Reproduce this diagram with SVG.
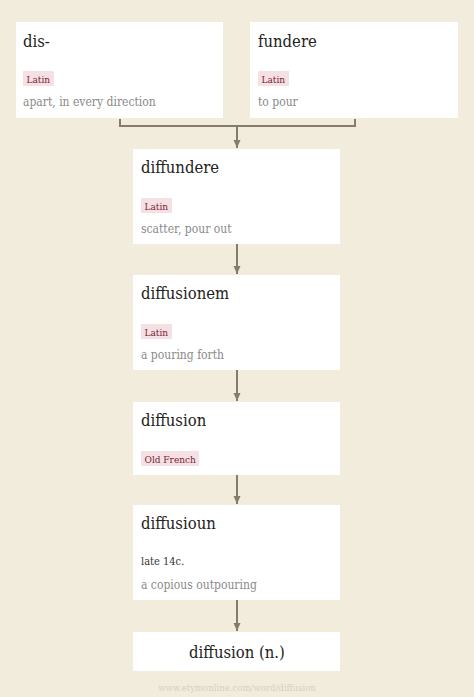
<svg xmlns="http://www.w3.org/2000/svg" width="474" height="697" viewBox="0 0 474 697">
<style>
.box{fill:#ffffff}
text{font-family:'DejaVu Serif Condensed','DejaVu Serif',serif;font-stretch:condensed}
.title{font-size:16.5px;fill:#222}
.tagbg{fill:#f5e0e4}
.tag{font-size:10px;fill:#7a1d38}
.def{font-size:12px;fill:#8a8a8a}
.date{font-size:11px;fill:#333}
.wm{font-size:9.5px;fill:#d6d0c0}
.conn{stroke:#857c6c;stroke-width:2;fill:none}
</style>
<defs>
<marker id="ah" markerWidth="8" markerHeight="9" refX="8" refY="3.5" orient="auto" markerUnits="userSpaceOnUse">
<path d="M0,0 L8,3.5 L0,7 Z" fill="#857c6c"/>
</marker>
</defs>
<rect width="474" height="697" fill="#f2ecdc"/>
<g id="connectors">
<path class="conn" d="M120,119 V126 H355 V119"/>
<path class="conn" d="M237,126 V148" marker-end="url(#ah)"/>
<path class="conn" d="M237,244 V274" marker-end="url(#ah)"/>
<path class="conn" d="M237,370 V401" marker-end="url(#ah)"/>
<path class="conn" d="M237,475 V504" marker-end="url(#ah)"/>
<path class="conn" d="M237,600 V631" marker-end="url(#ah)"/>
</g>
<g id="node-dis">
<rect class="box" x="16" y="22" width="207" height="96"/>
<text class="title" x="23" y="47">dis-</text>
<rect class="tagbg" x="23" y="71" width="31" height="15"/>
<text class="tag" x="26.5" y="82.5">Latin</text>
<text class="def" x="23" y="106">apart, in every direction</text>
</g>
<g id="node-fundere">
<rect class="box" x="250" y="22" width="208" height="96"/>
<text class="title" x="258" y="47">fundere</text>
<rect class="tagbg" x="258" y="71" width="31" height="15"/>
<text class="tag" x="261.5" y="82.5">Latin</text>
<text class="def" x="258" y="106">to pour</text>
</g>
<g id="node-diffundere">
<rect class="box" x="133" y="149" width="207" height="95"/>
<text class="title" x="141" y="173">diffundere</text>
<rect class="tagbg" x="141" y="198" width="31" height="15"/>
<text class="tag" x="144.5" y="209.5">Latin</text>
<text class="def" x="141" y="233">scatter, pour out</text>
</g>
<g id="node-diffusionem">
<rect class="box" x="133" y="275" width="207" height="95"/>
<text class="title" x="141" y="299">diffusionem</text>
<rect class="tagbg" x="141" y="324" width="31" height="15"/>
<text class="tag" x="144.5" y="335.5">Latin</text>
<text class="def" x="141" y="359">a pouring forth</text>
</g>
<g id="node-diffusion-of">
<rect class="box" x="133" y="402" width="207" height="73"/>
<text class="title" x="141" y="426">diffusion</text>
<rect class="tagbg" x="141" y="451" width="58" height="15"/>
<text class="tag" x="144.5" y="462.5">Old French</text>
</g>
<g id="node-diffusioun">
<rect class="box" x="133" y="505" width="207" height="95"/>
<text class="title" x="141" y="529">diffusioun</text>
<text class="date" x="141" y="565">late 14c.</text>
<text class="def" x="141" y="589">a copious outpouring</text>
</g>
<g id="node-diffusion-n">
<rect class="box" x="133" y="632" width="207" height="39"/>
<text class="title" x="237" y="658" text-anchor="middle">diffusion (n.)</text>
</g>
<text class="wm" x="237" y="691" text-anchor="middle">www.etymonline.com/word/diffusion</text>
</svg>
